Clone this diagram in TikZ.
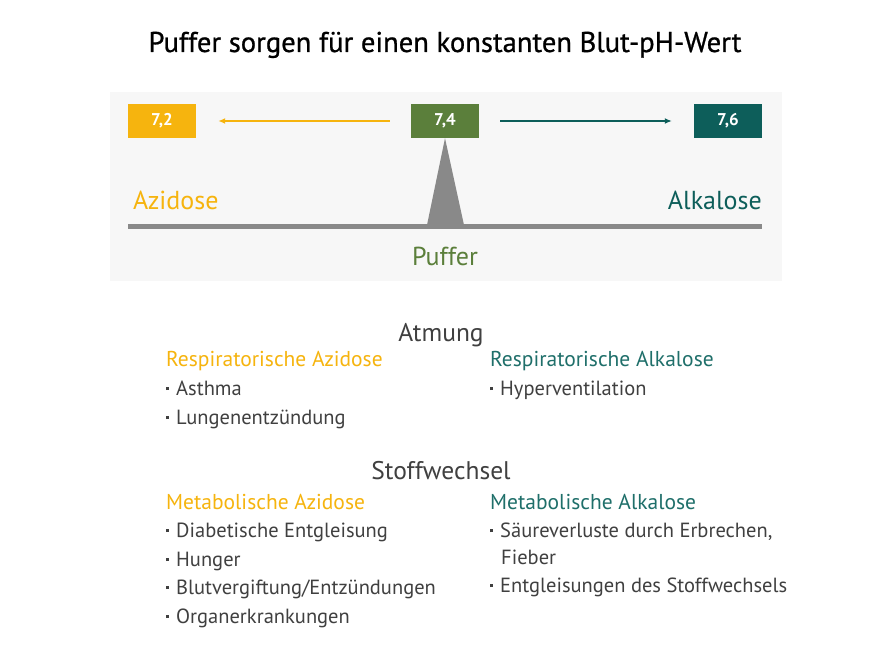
\documentclass[tikz,border=0pt]{standalone}
\usepackage{fontspec}
\setmainfont{PT Sans}
\newfontfamily\titelfont[FakeBold=0.8]{PT Sans}
\usetikzlibrary{arrows.meta}

\definecolor{azigelb}{HTML}{F6B40E}
\definecolor{puffergruen}{HTML}{5B7F3B}
\definecolor{alkatuerkis}{HTML}{0D5E5A}
\definecolor{alkatext}{HTML}{1F6F6A}
\definecolor{textgrau}{HTML}{404040}
\definecolor{keilgrau}{HTML}{898989}
\definecolor{hintergrund}{HTML}{F7F7F7}

\newcommand{\qpunkt}{\raisebox{5pt}{\rule{3pt}{3pt}}\hspace{7pt}}

\tikzset{
  phbox/.style={fill=#1, text=white, font=\bfseries\fontsize{17}{19}\selectfont,
    minimum width=68pt, minimum height=34pt, inner sep=0pt},
  kopf/.style={anchor=base west, inner sep=0pt, text=#1, font=\fontsize{21.5}{24}\selectfont},
  punkt/.style={anchor=base west, inner sep=0pt, text=textgrau, font=\fontsize{20.5}{23}\selectfont},
  rubrik/.style={anchor=base, inner sep=0pt, text=textgrau, font=\fontsize{25.5}{28}\selectfont},
  skala/.style={inner sep=0pt, text=#1, font=\fontsize{26}{29}\selectfont},
  pfeil/.style={line width=1.8pt, draw=#1, -{Latex[length=7pt,width=6pt]}},
}

\begin{document}
\begin{tikzpicture}[x=1pt, y=-1pt]
	\useasboundingbox[fill=white] (0,0) rectangle (890,671);

	% Title
	\node[anchor=base, inner sep=0pt, font=\titelfont\fontsize{28.6}{32}\selectfont] (titel) at (445,52)
		{Puffer sorgen für einen konstanten Blut-pH-Wert};

	% Scale panel
	\fill[hintergrund] (110,92) rectangle (782,281);
	\node[phbox=azigelb] (b72) at (162,121) {7,2};
	\node[phbox=puffergruen] (b74) at (445,121) {7,4};
	\node[phbox=alkatuerkis] (b76) at (728,121) {7,6};

	\draw[pfeil=azigelb, shorten <=21pt, shorten >=22pt] (b74.west) -- (b72.east);
	\draw[pfeil=alkatuerkis, shorten <=21pt, shorten >=22pt] (b74.east) -- (b76.west);

	% Balance
	\coordinate (fussl) at (427,225);
	\coordinate (fussr) at (464,225);
	\fill[keilgrau] (b74.south) -- (fussl) -- (fussr) -- cycle;
	\draw[keilgrau, line width=5pt] (128,226) -- (762,226);

	\node[skala=azigelb, anchor=base west] (azi) at (133,209) {Azidose};
	\node[skala=alkatuerkis, anchor=base east] (alka) at (762,209) {Alkalose};
	\node[skala=puffergruen, anchor=base] (puffer) at (445,265) {Puffer};

	% Atmung
	\node[rubrik] (atmung) at (441,341) {Atmung};
	\node[kopf=azigelb] (resazi) at (166,366) {Respiratorische Azidose};
	\node[punkt] (asthma) at (166,395) {\qpunkt Asthma};
	\node[punkt] (lunge) at (166,424) {\qpunkt Lungenentzündung};
	\node[kopf=alkatext] (resalka) at (490,366) {Respiratorische Alkalose};
	\node[punkt] (hyper) at (490,395) {\qpunkt Hyperventilation};

	% Stoffwechsel
	\node[rubrik] (stoff) at (441,479) {Stoffwechsel};
	\node[kopf=azigelb] (metazi) at (166,509) {Metabolische Azidose};
	\node[punkt] (diab) at (166,537) {\qpunkt Diabetische Entgleisung};
	\node[punkt] (hunger) at (166,566) {\qpunkt Hunger};
	\node[punkt] (blut) at (166,594) {\qpunkt Blutvergiftung/Entzündungen};
	\node[punkt] (organ) at (166,623) {\qpunkt Organerkrankungen};
	\node[kopf=alkatext] (metalka) at (490,509) {Metabolische Alkalose};
	\node[punkt] (saeure) at (490,537) {\qpunkt Säureverluste durch Erbrechen,};
	\node[punkt] (fieber) at (501,564) {Fieber};
	\node[punkt] (entgl) at (490,592) {\qpunkt Entgleisungen des Stoffwechsels};
\end{tikzpicture}
\end{document}
